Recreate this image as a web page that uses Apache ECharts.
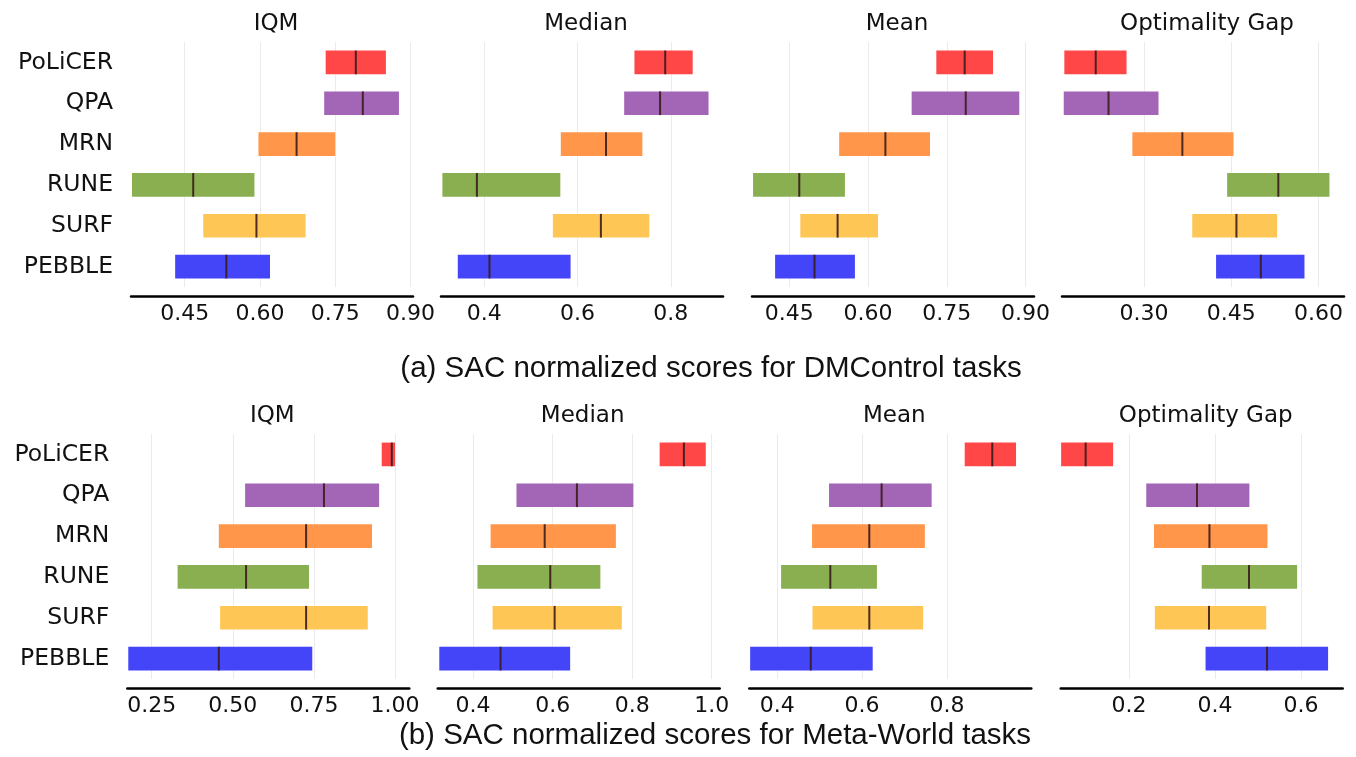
<!DOCTYPE html>
<html>
<head>
<meta charset="utf-8">
<script src="https://cdn.jsdelivr.net/npm/echarts@6/dist/echarts.min.js"></script>
<style>
  html, body { margin: 0; padding: 0; background: #fff; }
  #chart { width: 1356px; height: 757px; }
</style>
</head>
<body>
<div id="chart"></div>
<script>
const methods = ['PoLiCER', 'QPA', 'MRN', 'RUNE', 'SURF', 'PEBBLE']
const colors = ['#ff4343', '#a163b5', '#ff9445', '#87ad4c', '#fec652', '#4040f8']
const metrics = ['IQM', 'Median', 'Mean', 'Optimality Gap']
const captions = ['(a) SAC normalized scores for DMControl tasks', '(b) SAC normalized scores for Meta-World tasks']

// [low, point, high] per method, in methods order
// (a) DMControl
const dmcIqm = [[0.731, 0.791, 0.851], [0.728, 0.805, 0.877], [0.597, 0.673, 0.750], [0.345, 0.467, 0.589], [0.487, 0.593, 0.691], [0.431, 0.533, 0.620]]
const dmcMedian = [[0.722, 0.788, 0.847], [0.700, 0.777, 0.881], [0.564, 0.661, 0.739], [0.310, 0.384, 0.563], [0.547, 0.650, 0.754], [0.343, 0.411, 0.585]]
const dmcMean = [[0.730, 0.784, 0.838], [0.683, 0.786, 0.888], [0.545, 0.633, 0.718], [0.381, 0.469, 0.556], [0.471, 0.542, 0.619], [0.423, 0.498, 0.575]]
const dmcGap = [[0.163, 0.217, 0.270], [0.162, 0.239, 0.325], [0.280, 0.366, 0.454], [0.443, 0.531, 0.619], [0.383, 0.459, 0.529], [0.424, 0.501, 0.576]]
// (b) Meta-World
const mwIqm = [[0.959, 0.990, 1.000], [0.538, 0.781, 0.951], [0.457, 0.726, 0.929], [0.330, 0.541, 0.735], [0.461, 0.726, 0.916], [0.178, 0.457, 0.745]]
const mwMedian = [[0.869, 0.930, 0.985], [0.509, 0.661, 0.803], [0.444, 0.580, 0.759], [0.411, 0.594, 0.720], [0.449, 0.605, 0.774], [0.315, 0.469, 0.644]]
const mwMean = [[0.842, 0.907, 0.963], [0.522, 0.646, 0.764], [0.482, 0.617, 0.748], [0.409, 0.525, 0.635], [0.483, 0.617, 0.744], [0.336, 0.479, 0.625]]
const mwGap = [[0.042, 0.099, 0.163], [0.240, 0.358, 0.480], [0.258, 0.387, 0.522], [0.369, 0.479, 0.591], [0.260, 0.386, 0.519], [0.378, 0.521, 0.663]]

// tick labels for each panel
const dmcTicks = [[0.45, 0.60, 0.75, 0.90], [0.4, 0.6, 0.8], [0.45, 0.60, 0.75, 0.90], [0.30, 0.45, 0.60]]
const mwTicks = [[0.25, 0.50, 0.75, 1.00], [0.4, 0.6, 0.8, 1.0], [0.4, 0.6, 0.8], [0.2, 0.4, 0.6]]
// axis ranges
const dmcRange = [[0.343, 0.905], [0.307, 0.912], [0.379, 0.916], [0.159, 0.644]]
const mwRange = [[0.175, 1.044], [0.311, 1.020], [0.334, 0.999], [0.041, 0.697]]

const rows = [
  { data: [dmcIqm, dmcMedian, dmcMean, dmcGap], ticks: dmcTicks, range: dmcRange, decimals: [2, 1, 2, 2],
    top: 42, lefts: [131, 441, 752, 1062], capX: 706, capY: 349 },
  { data: [mwIqm, mwMedian, mwMean, mwGap], ticks: mwTicks, range: mwRange, decimals: [2, 1, 1, 1],
    top: 434, lefts: [127.3, 437.7, 749.3, 1060.7], capX: 710, capY: 716 }
]

const chart = echarts.init(document.getElementById('chart'))
const grid = [], xAxis = [], yAxis = [], series = [], title = []
const panelW = 282
const panelH = 245

rows.forEach((row, r) => {
  row.data.forEach((panel, p) => {
    const idx = grid.length
    const left = row.lefts[p]
    grid.push({ left: left, top: row.top, width: panelW, height: panelH })
    title.push({
      text: metrics[p],
      left: left + panelW / 2 - 1,
      top: row.top - 34,
      textAlign: 'center',
      textStyle: { fontFamily: 'DejaVu Sans', fontSize: 23, fontWeight: 'normal', color: '#111' }
    })
    const dec = row.decimals[p]
    xAxis.push({
      type: 'value',
      gridIndex: idx,
      min: row.range[p][0],
      max: row.range[p][1],
      offset: 9,
      axisLine: { show: true, lineStyle: { color: '#000', width: 2.5 } },
      axisTick: { show: false, customValues: row.ticks[p] },
      axisLabel: {
        customValues: row.ticks[p],
        formatter: v => v.toFixed(dec),
        fontFamily: 'DejaVu Sans', fontSize: 22, color: '#111', margin: 7
      },
      splitLine: { show: true, lineStyle: { color: '#ebebeb', width: 1 } }
    })
    yAxis.push({
      type: 'category',
      gridIndex: idx,
      data: methods,
      inverse: true,
      axisLine: { show: false },
      axisTick: { show: false },
      axisLabel: {
        show: p === 0,
        fontFamily: 'DejaVu Sans', fontSize: 23.5, color: '#111', margin: 18
      }
    })
    series.push({
      type: 'custom',
      xAxisIndex: idx,
      yAxisIndex: idx,
      silent: true,
      data: panel.map((d, i) => [i, d[0], d[1], d[2]]),
      encode: { y: 0, x: [1, 2, 3] },
      renderItem: (params, api) => {
        const i = api.value(0)
        const lo = api.coord([api.value(1), i])
        const mid = api.coord([api.value(2), i])
        const hi = api.coord([api.value(3), i])
        const h = api.size([0, 1])[1] * 0.58
        return {
          type: 'group',
          children: [
            {
              type: 'rect',
              shape: { x: lo[0], y: lo[1] - h / 2, width: hi[0] - lo[0], height: h },
              style: { fill: colors[i], opacity: 0.98 }
            },
            {
              type: 'line',
              shape: { x1: mid[0], y1: mid[1] - h / 2, x2: mid[0], y2: mid[1] + h / 2 },
              style: { stroke: '#3a1c1c', lineWidth: 2, opacity: 0.9 }
            }
          ]
        }
      }
    })
  })
  title.push({
    text: captions[r],
    left: row.capX,
    top: row.capY,
    textAlign: 'center',
    textStyle: { fontFamily: "'Liberation Sans', sans-serif", fontSize: 29.5, fontWeight: 'normal', color: '#111' }
  })
})

chart.setOption({
  backgroundColor: '#fff',
  animation: false,
  title: title,
  grid: grid,
  xAxis: xAxis,
  yAxis: yAxis,
  series: series
})
</script>
</body>
</html>
